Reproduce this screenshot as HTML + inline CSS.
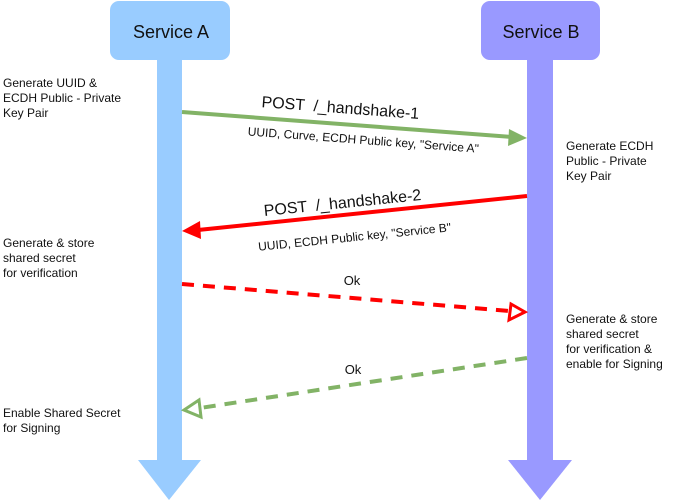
<!DOCTYPE html>
<html><head><meta charset="utf-8"><style>
html,body{margin:0;padding:0;background:#fff;}
svg{display:block;font-family:"Liberation Sans",Arial,sans-serif;}
text{white-space:pre;}
</style></head><body>
<svg width="695" height="501" viewBox="0 0 695 501" xmlns="http://www.w3.org/2000/svg">
<rect x="110" y="1" width="120" height="59" rx="9" fill="#99ccff"/>
<text x="171" y="38" font-size="18" text-anchor="middle" fill="#111">Service A</text>
<rect x="481" y="1" width="119" height="59" rx="9" fill="#9999ff"/>
<text x="541" y="38" font-size="18" text-anchor="middle" fill="#111">Service B</text>
<rect x="157" y="60" width="25" height="400" fill="#99ccff"/>
<polygon points="138,460 201,460 169,500" fill="#99ccff"/>
<rect x="527" y="60" width="26" height="400" fill="#9999ff"/>
<polygon points="508,460 572,460 540,500" fill="#9999ff"/>
<line x1="182" y1="112" x2="512" y2="137" stroke="#82b366" stroke-width="4"/>
<polygon points="527,138 509,129 508,146" fill="#82b366"/>
<line x1="527" y1="196" x2="198" y2="230" stroke="#ff0000" stroke-width="4"/>
<polygon points="182,231 200,221 201,239" fill="#ff0000"/>
<line x1="182" y1="284" x2="510" y2="311" stroke="#ff0000" stroke-width="4" stroke-dasharray="12,9"/>
<polygon points="525,312 511,304 509,320" fill="#fff" stroke="#ff0000" stroke-width="3"/>
<line x1="527" y1="358" x2="200" y2="408" stroke="#82b366" stroke-width="4" stroke-dasharray="12,9"/>
<polygon points="184,410 199,400 201,417" fill="#fff" stroke="#82b366" stroke-width="3"/>
<text font-size="16" text-anchor="middle" transform="translate(340,113) rotate(4.3)" fill="#111" xml:space="preserve">POST  /_handshake-1</text>
<text font-size="12" text-anchor="middle" transform="translate(363,144) rotate(4.3)" fill="#111">UUID, Curve, ECDH Public key, "Service A"</text>
<text font-size="16" text-anchor="middle" transform="translate(343,208) rotate(-5.8)" fill="#111" xml:space="preserve">POST  /_handshake-2</text>
<text font-size="12" text-anchor="middle" transform="translate(355,241) rotate(-5.8)" fill="#111">UUID, ECDH Public key, "Service B"</text>
<text x="352" y="285" font-size="13" text-anchor="middle" fill="#111">Ok</text>
<text x="353" y="374" font-size="13" text-anchor="middle" fill="#111">Ok</text>
<g font-size="12" fill="#111">
<text x="3" y="87">Generate UUID &amp;</text>
<text x="3" y="102">ECDH Public - Private</text>
<text x="3" y="117">Key Pair</text>
<text x="3" y="247">Generate &amp; store</text>
<text x="3" y="262">shared secret</text>
<text x="3" y="277">for verification</text>
<text x="3" y="417">Enable Shared Secret</text>
<text x="3" y="432">for Signing</text>
<text x="566" y="150">Generate ECDH</text>
<text x="566" y="165">Public - Private</text>
<text x="566" y="180">Key Pair</text>
<text x="566" y="323">Generate &amp; store</text>
<text x="566" y="338">shared secret</text>
<text x="566" y="353">for verification &amp;</text>
<text x="566" y="368">enable for Signing</text>
</g>
</svg>
</body></html>
